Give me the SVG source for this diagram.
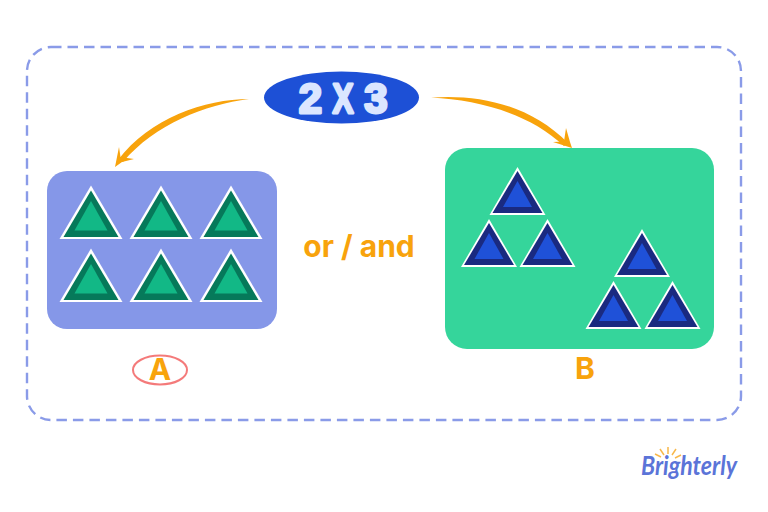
<svg xmlns="http://www.w3.org/2000/svg" width="768" height="512" viewBox="0 0 768 512">
<defs>
<g id="tg"><path d="M0 0 L-31.500 53.500 L31.500 53.500 Z" fill="#fff"/><path d="M0 5 L-27.500 51.500 L27.500 51.500 Z" fill="#06795a"/><path d="M0 15.500 L-16.500 45 L16.500 45 Z" fill="#12b886"/></g>
<g id="tb"><path d="M0 0 L-28 48 L28 48 Z" fill="#fff"/><path d="M0 4 L-25 46 L25 46 Z" fill="#1a2a80"/><path d="M0 14 L-14.500 40 L14.500 40 Z" fill="#1f51d8"/></g>
</defs>
<style>
.l{font-family:"Inter","Liberation Sans",sans-serif;font-weight:700;fill:#f8a30c}
.arc{fill:#f8a30c}
.n{font-family:"Liberation Sans",sans-serif;font-weight:700;font-size:42px;fill:#dbe6ff;stroke:#dbe6ff;stroke-width:2.800px;stroke-linejoin:round;text-anchor:middle}
</style>
<rect x="27" y="47" width="714" height="373" rx="24" fill="#fff" stroke="#8a9be8" stroke-width="2.400" stroke-dasharray="10.500 6"/>
<g id="connectors">
<path class="arc" d="M249 99 C205 99 150 118 118 160 L123 162 C155 124 205 105 249 99 Z"/>
<path class="arc" d="M115 167 L119 147 L120.500 157 L134 159 L122 162 Z"/>
<path class="arc" d="M431 97.500 C480 94 530 105 568 143 L564 146 C530 114 480 100 431 97.500 Z"/>
<path class="arc" d="M572 148 L553 142 L564 141.500 L566 128 L570 142 Z"/>
</g>
<g id="node-top">
<ellipse cx="341.500" cy="97.500" rx="77.500" ry="26" fill="#1d50d6"/>
<text class="n" x="310.500" y="113">2</text>
<text class="n" x="343" y="113" textLength="21" lengthAdjust="spacingAndGlyphs">X</text>
<text class="n" x="376" y="113">3</text>
</g>
<g id="node-a">
<rect x="47" y="171" width="230" height="158" rx="20" fill="#8597e8"/>
<use href="#tg" x="91" y="185.500"/>
<use href="#tg" x="161" y="185.500"/>
<use href="#tg" x="231" y="185.500"/>
<use href="#tg" x="91" y="248.500"/>
<use href="#tg" x="161" y="248.500"/>
<use href="#tg" x="231" y="248.500"/>
<ellipse cx="160" cy="370" rx="27" ry="14.500" fill="#fff" stroke="#f47a7a" stroke-width="2"/>
<text class="l" x="160" y="380" text-anchor="middle" font-size="30">A</text>
</g>
<g id="node-b">
<rect x="445" y="148" width="269" height="201" rx="22" fill="#35d59b"/>
<use href="#tb" x="517.500" y="167"/>
<use href="#tb" x="489" y="219"/>
<use href="#tb" x="547.500" y="219"/>
<use href="#tb" x="642" y="229"/>
<use href="#tb" x="613.500" y="281"/>
<use href="#tb" x="672.500" y="281"/>
<text class="l" x="585" y="379" text-anchor="middle" font-size="30">B</text>
</g>
<text id="label-or" class="l" x="359" y="257" text-anchor="middle" font-size="30">or / and</text>
<g id="logo">
<text x="689" y="475" text-anchor="middle" font-family="'Lato','Liberation Sans',sans-serif" font-style="italic" font-weight="700" font-size="27" fill="#5b74d8" textLength="96" lengthAdjust="spacingAndGlyphs">Brighterly</text>
<path d="M661 457 L655 454 M664 455 L660 449 M668 454 L668 447 M672 455 L676 449 M675 458 L681 455" stroke="#f8b84a" stroke-width="1.500" fill="none"/>
</g>
</svg>
